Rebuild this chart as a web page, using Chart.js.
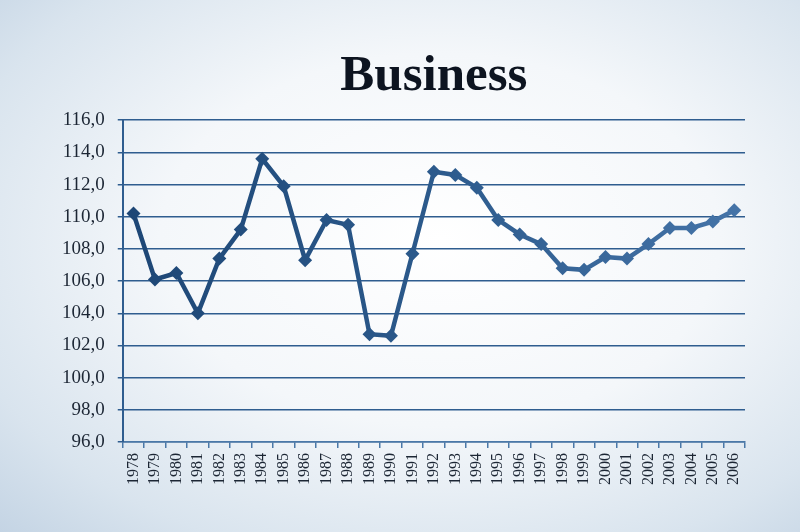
<!DOCTYPE html>
<html>
<head>
<meta charset="utf-8">
<script src="https://cdn.jsdelivr.net/npm/chart.js@4"></script>
<style>
  html, body { margin: 0; padding: 0; }
  body {
    width: 800px; height: 532px; overflow: hidden;
    background: radial-gradient(ellipse at 55% 45%, #ffffff 0%, #f4f7fa 45%, #d9e4ee 80%, #c4d4e4 100%);
  }
  #wrap { position: relative; width: 800px; height: 532px; }
</style>
</head>
<body>
<div id="wrap"><canvas id="chart"></canvas></div>
<script>
  const years = ["1978", "1979", "1980", "1981", "1982", "1983", "1984", "1985", "1986", "1987",
      "1988", "1989", "1990", "1991", "1992", "1993", "1994", "1995", "1996", "1997",
      "1998", "1999", "2000", "2001", "2002", "2003", "2004", "2005", "2006"];
  const business = [110.2, 106.1, 106.5, 104.0, 107.4, 109.2, 113.6, 111.9, 107.3, 109.8,
      109.5, 102.7, 102.6, 107.7, 112.8, 112.6, 111.8, 109.8, 108.9, 108.3,
      106.8, 106.7, 107.5, 107.4, 108.3, 109.3, 109.3, 109.7, 110.4];
  const yMin = 96;
  const yMax = 116;
  const yStep = 2;

  const serif = "'Liberation Serif', 'DejaVu Serif', serif";

  function lineGradient(context) {
      const area = context.chart.chartArea;
      if (!area) return '#234e7e';
      const g = context.chart.ctx.createLinearGradient(area.left, 0, area.right, 0);
      g.addColorStop(0, '#1d4675');
      g.addColorStop(0.5, '#2c5a8c');
      g.addColorStop(1, '#4574a8');
      return g;
  }

  const ctx = document.getElementById('chart').getContext('2d');
  new Chart(ctx, {
      type: 'line',
      data: {
          labels: years,
          datasets: [{
              label: 'Business',
              data: business,
              borderColor: lineGradient,
              backgroundColor: lineGradient,
              borderWidth: 4.5,
              pointStyle: 'rectRot',
              pointRadius: 7,
              pointBorderWidth: 0,
              tension: 0,
              fill: false
          }]
      },
      options: {
          responsive: true,
          maintainAspectRatio: false,
          animation: false,
          layout: {
              padding: {left: 49, right: 55, top: 46, bottom: 42}
          },
          scales: {
              x: {
                  offset: true,
                  grid: {
                      offset: true,
                      drawOnChartArea: false,
                      drawTicks: true,
                      tickLength: 6,
                      color: '#4a78a8',
                      lineWidth: 1.5
                  },
                  border: {color: '#4a78a8', width: 1.5},
                  ticks: {
                      minRotation: 90,
                      maxRotation: 90,
                      autoSkip: false,
                      color: '#1c2634',
                      font: {family: serif, size: 16},
                      padding: 5
                  }
              },
              y: {
                  min: yMin,
                  max: yMax,
                  grid: {
                      color: '#2f5d8f',
                      lineWidth: 1.5,
                      tickLength: 5
                  },
                  border: {color: '#2f5d8f', width: 2},
                  ticks: {
                      stepSize: yStep,
                      color: '#1c2634',
                      font: {family: serif, size: 19},
                      padding: 13,
                      callback: value => value.toFixed(1).replace('.', ',')
                  }
              }
          },
          plugins: {
              legend: {display: false},
              tooltip: {enabled: false},
              title: {
                  display: true,
                  text: 'Business',
                  fullSize: false,
                  color: '#0d1420',
                  font: {family: serif, size: 51, weight: 'bold'},
                  padding: {top: 0, bottom: 13}
              }
          }
      }
  });
</script>
</body>
</html>
